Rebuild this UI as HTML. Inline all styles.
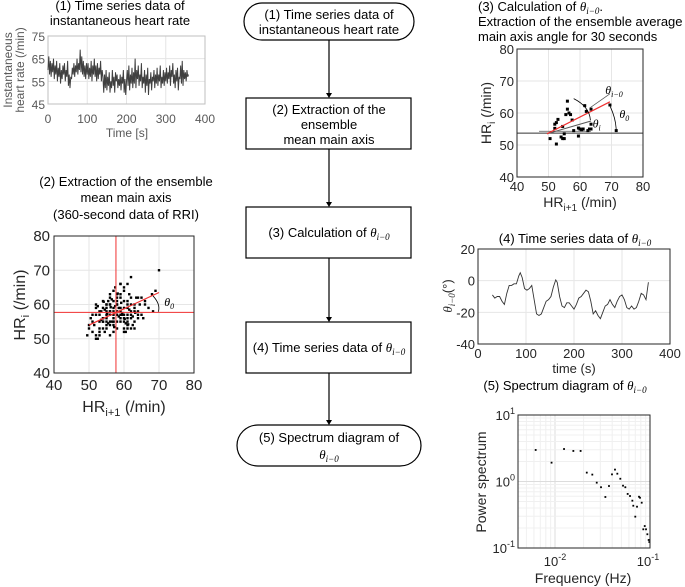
<!DOCTYPE html>
<html><head><meta charset="utf-8"><style>
body{margin:0;background:#fff}
svg{display:block;font-family:"Liberation Sans",sans-serif}
.ser{font-family:"Liberation Serif",serif;font-style:italic}
</style></head><body>
<svg id="s" width="685" height="587" viewBox="0 0 685 587" xmlns="http://www.w3.org/2000/svg">
<g id="flow" fill="none" stroke="#000" stroke-width="1.2">
<path d="M262,3 H396 A18,18.5 0 0 1 396,40 H262 A18,18.5 0 0 1 262,3 Z"/>
<rect x="246" y="98" width="165" height="51"/>
<rect x="246" y="207" width="165" height="51"/>
<rect x="246" y="322" width="165" height="51"/>
<path d="M258,425 H400 A21,20.5 0 0 1 400,466 H258 A21,20.5 0 0 1 258,425 Z"/>
<path d="M329,40V94 M329,149V203 M329,258V318 M329,373V421"/>
<path fill="#000" stroke="none" d="M326,93h6l-3,5z M326,202h6l-3,5z M326,317h6l-3,5z M326,420h6l-3,5z"/>
</g>
<g font-size="13" text-anchor="middle" fill="#000">
<text x="329" y="19">(1) Time series data of</text>
<text x="329" y="34">instantaneous heart rate</text>
<text x="329" y="114">(2) Extraction of the</text>
<text x="329" y="129">ensemble</text>
<text x="329" y="144">mean main axis</text>
<text x="329" y="237">(3) Calculation of <tspan class="ser">θ</tspan><tspan class="ser" font-size="9" dy="3">i−0</tspan></text>
<text x="329" y="352">(4) Time series data of <tspan class="ser">θ</tspan><tspan class="ser" font-size="9" dy="3">i−0</tspan></text>
<text x="329" y="442">(5) Spectrum diagram of</text>
<text x="329" y="459"><tspan class="ser">θ</tspan><tspan class="ser" font-size="9" dy="3">i−0</tspan></text>
</g>
<g id="p1"></g>
<g id="p2"></g>
<g id="p3"></g>
<g id="p4"></g>
<g id="p5"></g>
</svg>
<script>
// ---- Panel 1 data
const hrValues = [60,66,58,64,57,63,59,65,56,62, 58,64,55,61,57,63,54,60,56,62, 58,63,55,60,57,64,53,58,52,57, 56,61,58,63,57,62,59,65,58,63,
60,69,59,66,58,64,57,62,56,63, 58,63,56,61,57,64,55,62,58,65, 57,62,55,63,56,61,58,64,55,60, 57,50,58,52,60,51,57,53,59,50,
55,52,60,53,57,50,59,55,58,52, 56,53,58,51,57,54,60,50,56,49, 55,60,53,62,51,58,54,61,52,59, 54,65,52,60,56,62,53,58,55,63,
52,57,54,60,50,58,53,61,49,56, 54,59,51,57,55,60,52,58,54,61, 53,58,55,62,52,57,54,60,53,59, 55,61,54,59,56,62,53,60,57,63,
54,58,52,60,55,61,51,57,56,62, 54,64,53,60,56,59,55,60,57,58];
const p1XTicks = [0,100,200,300,400];
const p1YTicks = [45,55,65,75];
// ---- Panel 2 data
const ensX = [50,51,52,53,54,55,56,57,58,59,60,61,62,63,64,65,66,67,68,69,
 49.5,50.5,51.5,52.5,53.5,54.5,55.5,56.5,57.5,58.5,59.5,60.5,61.5,62.5,63.5,64.5,65.5,
 52,53,54,55,56,57,58,59,60,61,62,63,52,53,54,55,56,57,58,59,60,61,62,63,64,
 54,55,56,57,58,59,60,61,53,54,55,56,57,58,59,60,61,62,55,56,57,58,59,60,61,
 51,52,53,54,55,56,57,58,59,60,61,62,63,64,65,66,50,51,52,53,54,55,56,57,58,59,60,61,62,
 56,57,58,59,60,61,55,56,57,58,62,63,64,68.3,70,
 53.5,54.5,55.5,56.5,57.5,58.5,59.5,60.5,61.5,62.5,52.5,55.2,56.2,57.2,59.2,60.2,61.2,54.2,58.2,63.2];
const ensY = [54,52,50,53,55,57,60,56,62,58,55,53,56,60,58,57,61,59,63,64,
 51,56,54,50,58,52,61,55,65,59,57,52,63,54,62,60,56,
 57,55,59,53,62,54,60,57,56,54,60,58,60,51,56,58,55,59,53,63,53,66,57,55,62,
 61,54,63,55,58,62,52,59,58,53,60,57,64,55,66,57,61,53,55,58,61,57,59,65,56,
 55,59,52,56,60,54,57,60,55,64,57,62,59,57,62,60,53,57,51,57,55,59,58,52,61,56,59,55,68,
 60,58,57,66,61,60,56,51,55,63,58,53,56,58,70,
 55.5,58.5,54.5,61.5,59.5,56.5,57.5,54.5,58.5,56.5,59.5,57.3,59.2,53.4,60.5,55.8,54.2,60.8,63.2,57.6];
const p2Ticks = [40,50,60,70,80];
// ---- Panel 3 data
const winX = [50.5,52,52.5,53,52.5,54,54.5,55,55,55.5,56,56,56.5,57,57.5,58,59.5,59.5,60,60.5,61,61.5,62,62.5,63,63.5,63.5,63.5,69.5,71.5,52,54.5];
const winY = [52,56.5,57,58,50.3,52.5,52,52,53.5,59.5,63.7,61.2,60,59.5,57.8,54.5,52.8,55.3,55,54.7,55,62.3,60.5,54.5,55,55,56.5,61.2,62.5,54.5,55.2,55.8];
const p3Ticks = [40,50,60,70,80];
// ---- Panel 4 data
const thTimes = [30,35,40,45,50,55,60,65,70,75,80,85,88,92,97,102,107,112,117,122,127,132,137,142,147,152,157,162,165,170,175,180,185,190,195,200,205,210,215,220,225,230,235,240,245,250,255,260,265,270,275,280,285,290,295,300,305,310,315,320,325,330,335,340,345,350,355];
const thValues = [-9,-11,-10,-10,-13,-15,-8,-3,-3,-2,-2,3,5,2,-5,-6,-5,-3,-12,-21,-22,-21,-17,-13,-12,-10,-4,0.5,-1,-10,-16,-17,-14,-14,-16,-18,-15,-11,-10,-8,-6,-7,-13,-21,-19,-22,-24,-20,-16,-15,-12,-15,-17,-13,-10,-9,-12,-17,-18,-16,-18,-17,-13,-8,-9,-12,-1];
const p4XTicks = [0,100,200,300,400];
const p4YTicks = [-40,-20,0,20];
// ---- Panel 5 data
const specFreq = [0.00626,0.0092,0.01245,0.0156,0.0186,0.0216,0.0247,0.0275,0.0305,0.0339,0.037,0.0398,0.0428,0.0453,0.0487,0.052,0.055,0.0582,0.0616,0.0652,0.0667,0.070,0.073,0.0766,0.0785,0.0818,0.085,0.088,0.0908,0.0938,0.0968,0.0984];
const specPow = [2.98,1.92,3.08,2.88,2.88,1.36,1.27,0.96,0.82,0.585,0.855,1.28,1.51,1.31,1.10,0.865,0.82,0.65,0.605,0.515,0.432,0.296,0.418,0.59,0.57,0.48,0.191,0.214,0.191,0.161,0.132,0.123];

const NS="http://www.w3.org/2000/svg";
function mk(parent,tag,attrs,txt){const e=document.createElementNS(NS,tag);for(const k in attrs)e.setAttribute(k,attrs[k]);if(txt!==undefined)e.textContent=txt;parent.appendChild(e);return e;}
function lin(d0,d1,r0,r1){return v=>r0+(v-d0)/(d1-d0)*(r1-r0);}

// ===== Panel 1
(function(){
const g=document.getElementById('p1');
const L=48,R=205,T=36,B=104;
const x=lin(0,400,L,R), y=lin(45,75,B,T);
p1XTicks.forEach(t=>{const l=mk(g,'line',{x1:x(t),x2:x(t),y1:T,y2:B,stroke:'#e4e4e4'});
 const tx=mk(g,'text',{x:x(t),y:123,'font-size':12,fill:'#595959','text-anchor':'middle'},t);});
p1YTicks.forEach(t=>{const l=mk(g,'line',{x1:L,x2:R,y1:y(t),y2:y(t),stroke:'#e4e4e4'});
 const tx=mk(g,'text',{x:45,y:y(t)+5,'font-size':12,fill:'#595959','text-anchor':'end'},t);});
const fr=mk(g,'rect',{x:L,y:T,width:R-L,height:B-T,fill:'none',stroke:'#bfbfbf'});
const n=hrValues.length;const dt=360/n;
const pts=hrValues.map((v,i)=>x(i*dt)+','+y(v)).join(' ');
const pl=mk(g,'polyline',{points:pts,fill:'none',stroke:'#404040','stroke-width':1});
[['(1) Time series data of',10],['instantaneous heart rate',25]].forEach(a=>{const t=mk(g,'text',{x:120,y:a[1],'font-size':13,'text-anchor':'middle'},a[0]);});
const xl=mk(g,'text',{x:127,y:137,'font-size':12,fill:'#595959','text-anchor':'middle'},'Time [s]');
const yl=mk(g,'text',{transform:'translate(12,70) rotate(-90)','font-size':12,fill:'#595959','text-anchor':'middle'},'Instantaneous');
const yl2=mk(g,'text',{transform:'translate(24,70) rotate(-90)','font-size':12,fill:'#595959','text-anchor':'middle'},'heart rate (/min)');
})();

// ===== Panel 2
(function(){
const g=document.getElementById('p2');
const L=54,R=194,T=236,B=373;
const x=lin(40,80,L,R), y=lin(40,80,B,T);
p2Ticks.forEach(t=>{
 const a=mk(g,'line',{x1:x(t),x2:x(t),y1:T,y2:B,stroke:'#e6e6e6'});
 const b=mk(g,'line',{x1:L,x2:R,y1:y(t),y2:y(t),stroke:'#e6e6e6'});
 const c=mk(g,'text',{x:x(t),y:390,'font-size':15,fill:'#262626','text-anchor':'middle'},t);
 const d=mk(g,'text',{x:L-4,y:y(t)+5,'font-size':15,fill:'#262626','text-anchor':'end'},t);
});
ensX.forEach((v,i)=>{const c=mk(g,'rect',{x:x(v)-1.2,y:y(ensY[i])-1.2,width:2.4,height:2.4,fill:'#000'});});
const mx=57.7,my=57.7;
const v=mk(g,'line',{x1:x(mx),x2:x(mx),y1:T,y2:B,stroke:'#f03030'});
const h=mk(g,'line',{x1:L,x2:R,y1:y(my),y2:y(my),stroke:'#f03030'});
const ax=mk(g,'line',{x1:x(50),y1:y(54),x2:x(70),y2:y(63.5),stroke:'#f03030','stroke-width':1.2});
const arc=mk(g,'path',{d:`M${x(68.3)},${y(62.5)} Q${x(70.5)},${y(60)} ${x(69.8)},${y(57.9)}`,fill:'none',stroke:'#000','stroke-width':0.8});
const lb=mk(g,'text',{x:x(71.5),y:y(59.5),'font-size':12,class:'ser'},'θ');
mk(lb,'tspan',{'font-size':8,dy:3},'0');
const fr=mk(g,'rect',{x:L,y:T,width:R-L,height:B-T,fill:'none',stroke:'#262626'});
[['(2) Extraction of the ensemble',186],['mean main axis',202],['(360-second data of RRI)',219]].forEach(a=>{const t=mk(g,'text',{x:126,y:a[1],'font-size':13,'text-anchor':'middle'},a[0]);});
const xl=mk(g,'text',{x:124,y:412,'font-size':16,fill:'#262626','text-anchor':'middle'},'HR');
mk(xl,'tspan',{'font-size':11,dy:4},'i+1');mk(xl,'tspan',{dy:-4},' (/min)');
const yl=mk(g,'text',{transform:'translate(25,305) rotate(-90)','font-size':16,fill:'#262626','text-anchor':'middle'},'HR');
mk(yl,'tspan',{'font-size':11,dy:4},'i');mk(yl,'tspan',{dy:-4},' (/min)');
})();

// ===== Panel 3
(function(){
const g=document.getElementById('p3');
const L=517,R=643,T=49,B=177;
const x=lin(40,80,L,R), y=lin(40,80,B,T);
p3Ticks.forEach(t=>{
 const a=mk(g,'line',{x1:x(t),x2:x(t),y1:T,y2:B,stroke:'#e6e6e6'});
 const b=mk(g,'line',{x1:L,x2:R,y1:y(t),y2:y(t),stroke:'#e6e6e6'});
 const c=mk(g,'text',{x:x(t),y:191,'font-size':13,fill:'#262626','text-anchor':'middle'},t);
 const d=mk(g,'text',{x:L-3,y:y(t)+5,'font-size':13,fill:'#262626','text-anchor':'end'},t);
});
const hb=mk(g,'line',{x1:L,x2:R,y1:y(53.7),y2:y(53.7),stroke:'#333'});
const hb2=mk(g,'line',{x1:x(47),x2:x(63.5),y1:y(54.3),y2:y(54.3),stroke:'#555','stroke-width':0.8});
winX.forEach((v,i)=>{const c=mk(g,'rect',{x:x(v)-1.5,y:y(winY[i])-1.5,width:3,height:3,fill:'#000'});});
const gl=mk(g,'line',{x1:x(49.5),y1:y(53.5),x2:x(63.5),y2:y(57.5),stroke:'#555','stroke-width':1});
const rl=mk(g,'line',{x1:x(49.5),y1:y(53.5),x2:x(69.5),y2:y(63.5),stroke:'#f03030','stroke-width':1.2});
const a1=mk(g,'path',{d:`M${x(69.6)},${y(62)} Q${x(71.5)},${y(58)} ${x(71.5)},${y(54.2)}`,fill:'none',stroke:'#000','stroke-width':0.8});
const a2=mk(g,'path',{d:`M${x(58)},${y(64.5)} Q${x(63)},${y(62)} ${x(63.3)},${y(57.8)}`,fill:'none',stroke:'#000','stroke-width':0.8});
const a3=mk(g,'line',{x1:x(63),y1:y(61.5),x2:x(69.5),y2:y(66)});a3.setAttribute('stroke','#555');a3.setAttribute('stroke-width','0.7');
const l1=mk(g,'text',{x:x(68),y:y(66),'font-size':12,class:'ser'},'θ');mk(l1,'tspan',{'font-size':8,dy:3},'i−0');
const l2=mk(g,'text',{x:x(64),y:y(55.5),'font-size':12,class:'ser'},'θ');mk(l2,'tspan',{'font-size':8,dy:3},'i');
const l3=mk(g,'text',{x:x(72.5),y:y(58.5),'font-size':12,class:'ser'},'θ');mk(l3,'tspan',{'font-size':8,dy:3},'0');
const fr=mk(g,'rect',{x:L,y:T,width:R-L,height:B-T,fill:'none',stroke:'#262626'});
const t1=mk(g,'text',{x:478,y:11,'font-size':13},'(3) Calculation of ');
mk(t1,'tspan',{class:'ser'},'θ');mk(t1,'tspan',{class:'ser','font-size':9,dy:3},'i−0');mk(t1,'tspan',{dy:-3},'.');
const t2=mk(g,'text',{x:478,y:26,'font-size':13},'Extraction of the ensemble average');
const t3=mk(g,'text',{x:478,y:41,'font-size':13},'main axis angle for 30 seconds');
const xl=mk(g,'text',{x:580,y:207,'font-size':14,fill:'#262626','text-anchor':'middle'},'HR');
mk(xl,'tspan',{'font-size':10,dy:4},'i+1');mk(xl,'tspan',{dy:-4},' (/min)');
const yl=mk(g,'text',{transform:'translate(491,113) rotate(-90)','font-size':14,fill:'#262626','text-anchor':'middle'},'HR');
mk(yl,'tspan',{'font-size':10,dy:4},'i');mk(yl,'tspan',{dy:-4},' (/min)');
})();

// ===== Panel 4
(function(){
const g=document.getElementById('p4');
const L=478,R=670,T=249,B=344;
const x=lin(0,400,L,R), y=lin(-40,20,B,T);
p4XTicks.forEach(t=>{const a=mk(g,'line',{x1:x(t),x2:x(t),y1:T,y2:B,stroke:'#e6e6e6'});
 const c=mk(g,'text',{x:x(t),y:358,'font-size':13,fill:'#262626','text-anchor':'middle'},t);});
p4YTicks.forEach(t=>{const b=mk(g,'line',{x1:L,x2:R,y1:y(t),y2:y(t),stroke:'#e6e6e6'});
 const d=mk(g,'text',{x:L-3,y:y(t)+5,'font-size':13,fill:'#262626','text-anchor':'end'},t);});
const pl=mk(g,'polyline',{points:thTimes.map((t,i)=>x(t)+','+y(thValues[i])).join(' '),fill:'none',stroke:'#333','stroke-width':0.9});
const fr=mk(g,'rect',{x:L,y:T,width:R-L,height:B-T,fill:'none',stroke:'#262626'});
const t=mk(g,'text',{x:575,y:243,'font-size':13,'text-anchor':'middle'},'(4) Time series data of ');
mk(t,'tspan',{class:'ser'},'θ');mk(t,'tspan',{class:'ser','font-size':9,dy:3},'i−0');
const xl=mk(g,'text',{x:574,y:373,'font-size':13,fill:'#262626','text-anchor':'middle'},'time (s)');
const yl=mk(g,'text',{transform:'translate(452,296) rotate(-90)','font-size':13,fill:'#262626','text-anchor':'middle'},'');
mk(yl,'tspan',{class:'ser'},'θ');mk(yl,'tspan',{class:'ser','font-size':9,dy:3},'i−0');mk(yl,'tspan',{dy:-3},'(°)');
})();

// ===== Panel 5
(function(){
const g=document.getElementById('p5');
const L=518,R=650,T=415,B=548;
const lx=lin(-2,-1,555,650), ly=lin(-1,1,B,T);
const x=v=>lx(Math.log10(v)), y=v=>ly(Math.log10(v));
for(let d=-3;d<=-2;d++)for(let m=1;m<10;m++){const f=m*Math.pow(10,d);const px=x(f);if(px<L-0.5||px>R+0.5)continue;
 const a=mk(g,'line',{x1:px,x2:px,y1:T,y2:B,stroke:m===1?'#dcdcdc':'#f0f0f0'});}
for(let d=-1;d<=0;d++)for(let m=1;m<10;m++){const py=y(m*Math.pow(10,d));
 const b=mk(g,'line',{x1:L,x2:R,y1:py,y2:py,stroke:m===1?'#dcdcdc':'#f0f0f0'});}
specFreq.forEach((f,i)=>{const c=mk(g,'rect',{x:x(f)-0.9,y:y(specPow[i])-0.9,width:1.8,height:1.8,fill:'#000'});});
const fr=mk(g,'rect',{x:L,y:T,width:R-L,height:B-T,fill:'none',stroke:'#262626'});
[[-2,555],[-1,648]].forEach(a=>{const t=mk(g,'text',{x:a[1],y:566,'font-size':13,fill:'#262626','text-anchor':'middle'},'10');mk(t,'tspan',{'font-size':9,dy:-6},String(a[0]));});
[[1,T],[0,ly(0)],[-1,B]].forEach(a=>{const t=mk(g,'text',{x:L-3,y:a[1]+5,'font-size':13,fill:'#262626','text-anchor':'end'},'10');mk(t,'tspan',{'font-size':9,dy:-6},String(a[0]));});
const t=mk(g,'text',{x:565,y:390,'font-size':13,'text-anchor':'middle'},'(5) Spectrum diagram of ');
mk(t,'tspan',{class:'ser'},'θ');mk(t,'tspan',{class:'ser','font-size':9,dy:3},'i−0');
const xl=mk(g,'text',{x:583,y:583,'font-size':14,fill:'#262626','text-anchor':'middle'},'Frequency (Hz)');
const yl=mk(g,'text',{transform:'translate(486,482) rotate(-90)','font-size':14,fill:'#262626','text-anchor':'middle'},'Power spectrum');
})();
</script>
</body></html>
